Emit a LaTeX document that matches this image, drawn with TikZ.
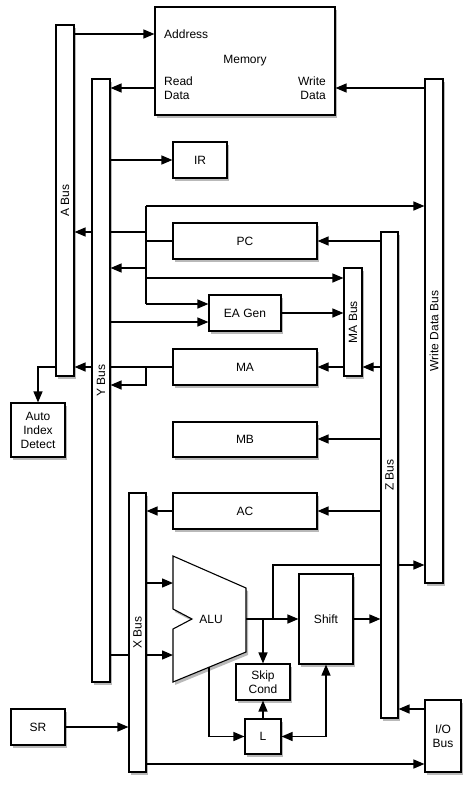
\documentclass[tikz,border=0pt]{standalone}
\usepackage{fontspec}
\setmainfont{Liberation Sans}
\usetikzlibrary{arrows.meta,shadows}

\begin{document}
\begin{tikzpicture}[x=1pt,y=-1pt,
    >={Triangle[length=11pt,width=9pt]},
    shp/.style={draw, fill=white, line width=1.1pt,
      drop shadow={shadow xshift=2pt,shadow yshift=-3pt,opacity=.55}},
    blk/.style={shp, inner sep=0pt, align=center, font=\fontsize{12}{14}\selectfont},
    lbl/.style={inner sep=0pt, font=\fontsize{12}{14}\selectfont},
    wire/.style={line width=1.4pt},
    arr/.style={wire, ->},
    dbl/.style={wire, <->}]

  \useasboundingbox (0,0) rectangle (472,787);

  % 1. die senkrechten Busse
  \node[blk, minimum width=18pt, minimum height=351pt] (abus)  at (65,200.5)  {};
  \node[blk, minimum width=18pt, minimum height=603pt] (ybus)  at (101,380.5) {};
  \node[blk, minimum width=18pt, minimum height=504pt] (wdb)   at (434,331)   {};
  \node[blk, minimum width=17pt, minimum height=486pt] (zbus)  at (389.5,475) {};
  \node[blk, minimum width=18pt, minimum height=108pt] (mabus) at (353,322)   {};
  \node[blk, minimum width=17pt, minimum height=279pt] (xbus)  at (137.5,632.5) {};

  \node[lbl, rotate=90] (abuslbl)  at (abus)  {A Bus};
  \node[lbl, rotate=90] (ybuslbl)  at (ybus)  {Y Bus};
  \node[lbl, rotate=90] (wdblbl)   at (wdb)   {Write Data Bus};
  \node[lbl, rotate=90] (zbuslbl)  at (zbus)  {Z Bus};
  \node[lbl, rotate=90] (mabuslbl) at (mabus) {MA Bus};
  \node[lbl, rotate=90] (xbuslbl)  at (xbus)  {X Bus};

  % 2. Speicher
  \node[blk, minimum width=180pt, minimum height=108pt] (mem) at (245,61) {};
  \node[lbl, anchor=west] (addrlbl) at (164,34) {Address};
  \node[lbl] (memlbl) at (245,61) {Memory};
  \node[lbl, anchor=west, align=left] (rdlbl) at (164,88) {Read\\Data};
  \node[lbl, anchor=east, align=right] (wrlbl) at (326,88) {Write\\Data};

  % 3. Register
  \node[blk, minimum width=54pt,  minimum height=36pt] (ir)    at (200,160) {IR};
  \node[blk, minimum width=144pt, minimum height=36pt] (pc)    at (245,241) {PC};
  \node[blk, minimum width=72pt,  minimum height=36pt] (eagen) at (245,313) {EA Gen};
  \node[blk, minimum width=144pt, minimum height=36pt] (ma)    at (245,367) {MA};
  \node[blk, minimum width=144pt, minimum height=35pt] (mb)    at (245,439.5) {MB};
  \node[blk, minimum width=144pt, minimum height=36pt] (ac)    at (245,511) {AC};
  \node[blk, minimum width=54pt,  minimum height=54pt] (aid)   at (38,430)  {Auto\\Index\\Detect};
  \node[blk, minimum width=54pt,  minimum height=36pt] (sr)    at (38,727)  {SR};
  \node[blk, minimum width=54pt,  minimum height=90pt] (shift) at (326,619) {Shift};
  \node[blk, minimum width=54pt,  minimum height=36pt] (skip)  at (263,682) {Skip\\Cond};
  \node[blk, minimum width=36pt,  minimum height=35pt] (lreg)  at (263,736.5) {L};
  \node[blk, minimum width=36pt,  minimum height=72pt] (io)    at (443,736) {I/O\\Bus};

  % 4. ALU (Trapez mit Kerbe)
  \draw[shp] (173,556) -- (246,588) -- (246,652) -- (173,682) -- (173,629)
    -- (192,619) -- (173,609) -- cycle;
  \node[lbl] (alulbl) at (211,619) {ALU};
  \coordinate (aluina) at (173,583);
  \coordinate (aluinb) at (173,655);
  \coordinate (aluout) at (246,619);
  \coordinate (alubot) at (209,667);

  % 5. Verbindungen am Speicher
  \draw[arr] (abus.east |- 0,34) -- (mem.west |- 0,34);
  \draw[arr] (mem.west |- 0,88) -- (ybus.east |- 0,88);
  \draw[arr] (wdb.west |- 0,88) -- (mem.east |- 0,88);
  \draw[arr] (ybus.east |- ir) -- (ir.west);

  % 6. PC-Ausgang verzweigt
  \coordinate (pcj) at (146,241);
  \draw[wire] (pc.west) -- (pcj);
  \draw[wire] (pcj |- 0,206) -- (pcj |- 0,304);
  \draw[arr] (pcj |- 0,206) -- (wdb.west |- 0,206);
  \draw[wire] (pcj |- 0,232) -- (ybus.east |- 0,232);
  \draw[arr] (ybus.west |- 0,232) -- (abus.east |- 0,232);
  \draw[arr] (pcj |- 0,268) -- (ybus.east |- 0,268);
  \draw[arr] (pcj |- 0,278) -- (mabus.west |- 0,278);
  \draw[arr] (pcj |- 0,304) -- (eagen.west |- 0,304);
  \draw[arr] (ybus.east |- 0,322) -- (eagen.west |- 0,322);
  \draw[arr] (eagen.east) -- (mabus.west |- eagen.east);
  \draw[arr] (zbus.west |- pc) -- (pc.east);

  % 7. MA, MB, AC
  \coordinate (maj) at (146,367);
  \draw[arr] (zbus.west |- ma) -- (mabus.east |- ma);
  \draw[arr] (mabus.west |- ma) -- (ma.east);
  \draw[wire] (ma.west) -- (ybus.east |- ma);
  \draw[arr] (ybus.west |- ma) -- (abus.east |- ma);
  \draw[arr] (maj) |- (ybus.east |- 0,385);
  \draw[arr] (abus.west |- ma) -| (aid.north);
  \draw[arr] (zbus.west |- 0,439) -- (mb.east |- 0,439);
  \draw[arr] (zbus.west |- ac) -- (ac.east);
  \draw[arr] (ac.west) -- (xbus.east |- ac);

  % 8. ALU, Shift, L
  \draw[arr] (xbus.east |- aluina) -- (aluina);
  \draw[wire] (ybus.east |- aluinb) -- (xbus.west |- aluinb);
  \draw[arr] (xbus.east |- aluinb) -- (aluinb);
  \draw[arr] (aluout) -- (shift.west);
  \draw[arr] (aluout -| skip.north) -- (skip.north);
  \coordinate (wdj) at (273,619);
  \draw[wire] (wdj) |- (zbus.west |- 0,565);
  \draw[arr] (zbus.east |- 0,565) -- (wdb.west |- 0,565);
  \draw[arr] (shift.east) -- (zbus.west |- shift);
  \draw[arr] (alubot) |- (lreg.west);
  \draw[arr] (lreg.north) -- (skip.south);
  \draw[dbl] (lreg.east) -| (shift.south);

  % 9. SR und I/O
  \draw[arr] (sr.east) -- (xbus.west |- sr);
  \draw[arr] (io.west |- 0,709) -- (zbus.east |- 0,709);
  \draw[arr] (xbus.east |- 0,764) -- (io.west |- 0,764);

\end{tikzpicture}
\end{document}
